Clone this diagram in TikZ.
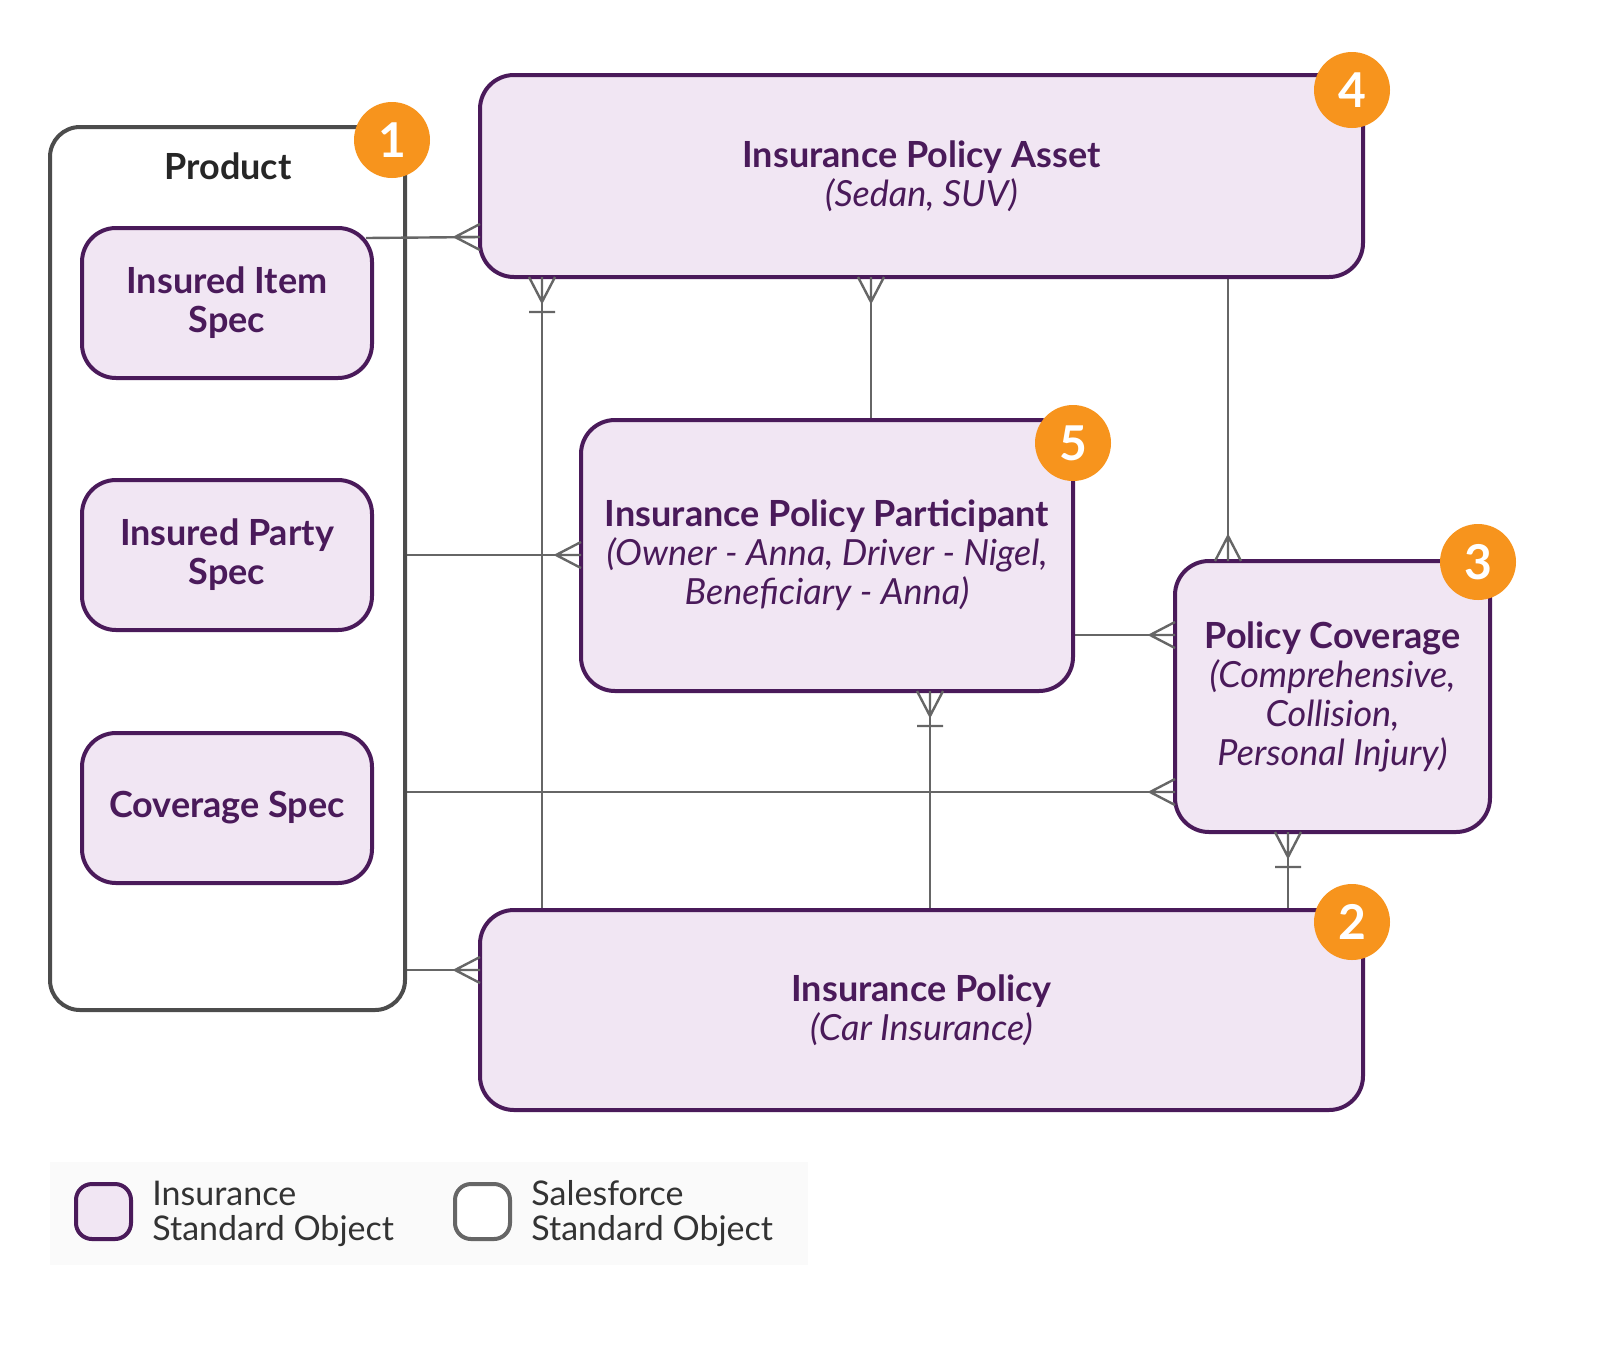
\documentclass[tikz,border=0pt]{standalone}
\usepackage{fontspec}
\setmainfont{Lato}
\definecolor{pur}{HTML}{4A1A5A}
\definecolor{pfill}{HTML}{F1E6F3}
\definecolor{org}{HTML}{F7941D}
\definecolor{gline}{HTML}{666666}
\begin{document}
\begin{tikzpicture}[x=0.5pt,y=0.5pt,
 box/.style={draw=pur,line width=2pt,fill=pfill,rounded corners=17pt,align=center,text=pur,font=\fontsize{18}{19.5}\selectfont},
 badge/.style={circle,fill=org,minimum size=38pt,inner sep=0pt,text=white,font=\fontsize{24}{24}\selectfont\bfseries},
 conn/.style={draw=gline,line width=1.2pt},
 crow/.pic={\draw[gline,line width=1.2pt] (0,13)--(25,0)--(0,-13) (0,0)--(25,0);},
 crowbar/.pic={\draw[gline,line width=1.2pt] (0,13)--(25,0)--(0,-13) (0,0)--(25,0) (35,13)--(35,-13);}
]
\useasboundingbox (0,0) rectangle (1600,-1345);
% legend
\fill[fill=black!2] (50,-1162) rectangle (808,-1265);
\node[draw=pur,fill=pfill,line width=2pt,rounded corners=8pt,minimum size=27.5pt] (l1) at (103.5,-1211.5) {};
\node[draw=gline,fill=white,line width=2pt,rounded corners=8pt,minimum size=27.5pt] (l2) at (482.5,-1211.5) {};
\node[anchor=west,align=left,text=black!80,font=\fontsize{17}{17.5}\selectfont,inner sep=0pt] (lt1) at (152,-1214) {Insurance\\Standard Object};
\node[anchor=west,align=left,text=black!80,font=\fontsize{17}{17.5}\selectfont,inner sep=0pt] (lt2) at (531,-1214) {Salesforce\\Standard Object};
% connectors (under boxes)
\draw[conn] (405,-970) -- (480,-970) coordinate (e2);
\draw[conn] (372,-555) -- (581,-555) coordinate (e3);
\draw[conn] (372,-792) -- (1175,-792) coordinate (e4);
\draw[conn] (1073,-635) -- (1175,-635) coordinate (e5);
\draw[conn] (1228,-277) coordinate (s6) -- (1228,-561) coordinate (e6);
\draw[conn] (542,-277) coordinate (s7) -- (542,-910);
\draw[conn] (871,-277) coordinate (s8) -- (871,-420);
\draw[conn] (930,-691) coordinate (s9) -- (930,-910);
\draw[conn] (1288,-832) coordinate (s10) -- (1288,-910);
% product
\node[draw=black!70,line width=2pt,rounded corners=15pt,fill=white,minimum width=177.5pt,minimum height=441.5pt] (prod) at (227.5,-568.5) {};
\node[font=\fontsize{18}{18}\selectfont\bfseries,text=black!85] (prodl) at (228,-166) {Product};
\draw[conn] (366,-238) -- (480,-237) coordinate (e1);
\node[box,minimum width=145pt,minimum height=75pt,font=\fontsize{18}{19.5}\selectfont\bfseries] (item) at (227,-303) {Insured Item\\Spec};
\node[box,minimum width=145pt,minimum height=75pt,font=\fontsize{18}{19.5}\selectfont\bfseries] (party) at (227,-555) {Insured Party\\Spec};
\node[box,minimum width=145pt,minimum height=75pt,font=\fontsize{18}{19.5}\selectfont\bfseries] (cov) at (227,-808) {Coverage Spec};
\node[box,minimum width=441.5pt,minimum height=101pt] (ipa) at (921.5,-176) {\textbf{Insurance Policy Asset}\\\textit{(Sedan, SUV)}};
\node[box,minimum width=246pt,minimum height=135.5pt] (ipp) at (827,-555.5) {\textbf{Insurance Policy Participant}\\\textit{(Owner - Anna, Driver - Nigel,}\\\textit{Beneficiary - Anna)}};
\node[box,minimum width=157.5pt,minimum height=135.5pt] (pc) at (1332.5,-696.5) {\textbf{Policy Coverage}\\\textit{(Comprehensive,}\\\textit{Collision,}\\\textit{Personal Injury)}};
\node[box,minimum width=441.5pt,minimum height=100pt] (ip) at (921.5,-1010) {\textbf{Insurance Policy}\\\textit{(Car Insurance)}};
% badges
\node[badge] (b1) at (392,-140) {1};
\node[badge] (b2) at (1352,-922) {2};
\node[badge] (b3) at (1478,-562) {3};
\node[badge] (b4) at (1352,-90) {4};
\node[badge] (b5) at (1073,-443) {5};
% crow's feet
\pic[rotate=180] at (e1) {crow};
\pic[rotate=180] at (e2) {crow};
\pic[rotate=180] at (e3) {crow};
\pic[rotate=180] at (e4) {crow};
\pic[rotate=180] at (e5) {crow};
\pic[rotate=90] at (e6) {crow};
\pic[rotate=-90] at (s7) {crowbar};
\pic[rotate=-90] at (s8) {crow};
\pic[rotate=-90] at (s9) {crowbar};
\pic[rotate=-90] at (s10) {crowbar};
\end{tikzpicture}
\end{document}
